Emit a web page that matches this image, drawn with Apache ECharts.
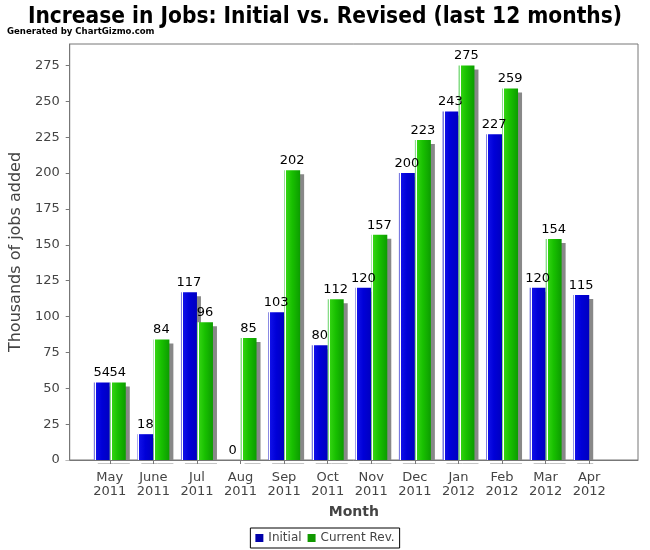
<!DOCTYPE html>
<html>
<head>
<meta charset="utf-8">
<script src="https://cdn.jsdelivr.net/npm/echarts@6/dist/echarts.min.js"></script>
<style>
html, body { margin: 0; padding: 0; background: #fff; }
#chart { width: 650px; height: 550px; }
</style>
</head>
<body>
<div id="chart"></div>
<script>
// 数据
var months = ['May\n2011', 'June\n2011', 'Jul\n2011', 'Aug\n2011', 'Sep\n2011', 'Oct\n2011',
	'Nov\n2011', 'Dec\n2011', 'Jan\n2012', 'Feb\n2012', 'Mar\n2012', 'Apr\n2012'];
var initial = [54, 18, 117, 0, 103, 80, 120, 200, 243, 227, 120, 115];
var currentRev = [54, 84, 96, 85, 202, 112, 157, 223, 275, 259, 154, null];
var yTicks = [0, 25, 50, 75, 100, 125, 150, 175, 200, 225, 250, 275];
var yMax = 290;

function barColor(edge, base, mid, dark) {
	return new echarts.graphic.LinearGradient(0, 0, 1, 0, [
		{offset: 0, color: edge},
		{offset: 0.07, color: edge},
		{offset: 0.07, color: '#ffffff'},
		{offset: 0.13, color: '#ffffff'},
		{offset: 0.13, color: base},
		{offset: 0.5, color: mid},
		{offset: 1, color: dark}
	]);
}

var chart = echarts.init(document.getElementById('chart'));

var labelStyle = {
	show: true,
	position: 'top',
	distance: 3,
	color: '#000',
	fontFamily: 'DejaVu Sans',
	fontSize: 13
};

var option = {
	animation: false,
	backgroundColor: '#fff',
	title: [{
		text: 'Increase in Jobs: Initial vs. Revised (last 12 months)',
		left: 'center',
		top: 1,
		textStyle: {fontFamily: 'DejaVu Sans Condensed', fontWeight: 'bold', fontSize: 22.5, color: '#000'}
	}, {
		text: 'Generated by ChartGizmo.com',
		left: 2,
		top: 22,
		textStyle: {fontFamily: 'DejaVu Sans Condensed', fontWeight: 'bold', fontSize: 9.5, color: '#000'}
	}],
	// 底部被阴影盖住的一条，补白
	graphic: [{
		type: 'rect',
		z: 10,
		shape: {x: 66, y: 460.5, width: 580, height: 3},
		style: {fill: '#fff'}
	}],
	legend: {
		bottom: 2,
		left: 'center',
		icon: 'rect',
		itemWidth: 8,
		itemHeight: 8,
		itemGap: 6,
		padding: [4, 5],
		borderColor: '#000',
		borderWidth: 1,
		textStyle: {fontFamily: 'DejaVu Sans', fontSize: 12, color: '#444'},
		data: [
			{name: 'Initial', itemStyle: {color: '#0000aa', shadowColor: 'transparent', shadowOffsetX: 0, shadowOffsetY: 0}},
			{name: 'Current Rev.', itemStyle: {color: '#119900', shadowColor: 'transparent', shadowOffsetX: 0, shadowOffsetY: 0}}
		]
	},
	grid: [
		{left: 66, right: 12, top: 44, bottom: 90, show: true, borderColor: '#777', borderWidth: 1, backgroundColor: '#fff'},
		{left: 88, right: 39, top: 44, bottom: 90}
	],
	xAxis: [{
		gridIndex: 0,
		type: 'value',
		min: 0,
		max: 1,
		offset: 4,
		z: 20,
		name: 'Month',
		nameLocation: 'middle',
		nameGap: 41,
		nameTextStyle: {fontFamily: 'DejaVu Sans', fontWeight: 'bold', fontSize: 14, color: '#444'},
		axisLine: {show: true, lineStyle: {color: '#777'}},
		axisTick: {show: false},
		axisLabel: {show: false},
		splitLine: {show: false}
	}, {
		gridIndex: 1,
		type: 'category',
		data: months,
		offset: 4,
		z: 20,
		axisLine: {show: false},
		axisTick: {show: true, alignWithLabel: true, length: 4, lineStyle: {color: '#777'}},
		axisLabel: {fontFamily: 'DejaVu Sans', fontSize: 13, color: '#444', lineHeight: 14, margin: 7}
	}],
	yAxis: [{
		gridIndex: 0,
		type: 'value',
		min: 0,
		max: yMax,
		offset: 4,
		name: 'Thousands of jobs added',
		nameLocation: 'middle',
		nameRotate: 90,
		nameGap: 35,
		nameTextStyle: {fontFamily: 'DejaVu Sans', fontSize: 16, color: '#444'},
		axisLine: {show: true, lineStyle: {color: '#777'}},
		axisTick: {show: true, length: 4, customValues: yTicks, lineStyle: {color: '#777'}},
		axisLabel: {customValues: yTicks, fontFamily: 'DejaVu Sans', fontSize: 13, color: '#444', margin: 6},
		splitLine: {show: false}
	}, {
		gridIndex: 1,
		type: 'value',
		min: 0,
		max: yMax,
		show: false
	}],
	series: [{
		name: 'Initial',
		type: 'bar',
		xAxisIndex: 1,
		yAxisIndex: 1,
		barWidth: 16,
		barGap: '0%',
		data: initial,
		label: labelStyle,
		itemStyle: {
			color: barColor('#7a7ae0', '#1010e8', '#0000d8', '#0000c0'),
			shadowColor: '#888',
			shadowBlur: 0,
			shadowOffsetX: 4,
			shadowOffsetY: 4
		}
	}, {
		name: 'Current Rev.',
		type: 'bar',
		xAxisIndex: 1,
		yAxisIndex: 1,
		barWidth: 16,
		barGap: '0%',
		data: currentRev,
		label: labelStyle,
		itemStyle: {
			color: barColor('#88dd88', '#33d411', '#18c000', '#0c9c00'),
			shadowColor: '#888',
			shadowBlur: 0,
			shadowOffsetX: 4,
			shadowOffsetY: 4
		}
	}]
};

chart.setOption(option);
</script>
</body>
</html>
